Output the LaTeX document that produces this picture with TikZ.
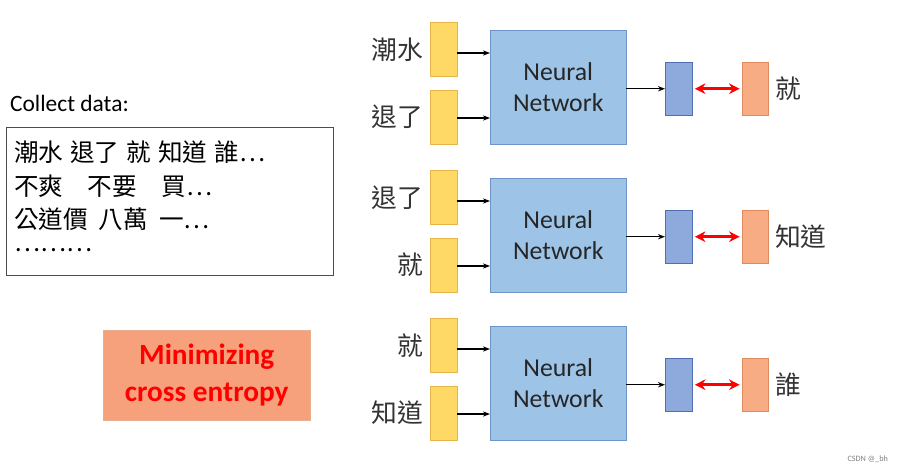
\documentclass[tikz,border=0pt]{standalone}
\usepackage{fontspec}
\setmainfont{Carlito}
\newfontfamily\cjk{Noto Sans CJK TC}
\usetikzlibrary{arrows.meta}
\definecolor{yel}{HTML}{FFD966}
\definecolor{yelD}{HTML}{E6B54A}
\definecolor{nnF}{HTML}{9DC3E6}
\definecolor{nnD}{HTML}{6F94C8}
\definecolor{bl}{HTML}{8EA9DB}
\definecolor{blD}{HTML}{4F6FB0}
\definecolor{orF}{HTML}{F8AC84}
\definecolor{orD}{HTML}{E08A60}
\definecolor{mceF}{HTML}{F6A07C}
\begin{document}
\begin{tikzpicture}[x=0.03cm,y=-0.03cm,
 box/.style={draw,inner sep=0,anchor=north west},
 yb/.style={box,fill=yel,draw=yelD,minimum width=27*0.03cm,minimum height=54*0.03cm},
 nn/.style={box,fill=nnF,draw=nnD,minimum width=136*0.03cm,minimum height=114*0.03cm,align=center,font=\fontsize{22}{27}\selectfont,text=black!85},
 ob/.style={box,fill=bl,draw=blD,minimum width=27*0.03cm,minimum height=53*0.03cm},
 tb/.style={box,fill=orF,draw=orD,minimum width=26*0.03cm,minimum height=53*0.03cm},
 lab/.style={font=\cjk\fontsize{22}{26}\selectfont,text=black!80},
 arr/.style={-{Stealth[length=6pt]},line width=1.1pt},
 red/.style={{Stealth[length=9pt,width=9pt]}-{Stealth[length=9pt,width=9pt]},draw=red,line width=2.8pt}]
\useasboundingbox (0,0) rectangle (902,473);
\node[anchor=west,font=\fontsize{20}{24}\selectfont] (cd) at (6,103) {Collect data:};
\node[box,draw=black!70,minimum width=327*0.03cm,minimum height=148*0.03cm] (data) at (6,127) {};
\begin{scope}[every node/.style={anchor=west,font=\cjk\fontsize{21}{24}\selectfont}]
\node (l1) at (10,152) {潮水\hspace{6pt}退了\hspace{6pt}就\hspace{6pt}知道\hspace{6pt}誰…};
\node (l2) at (10,186) {不爽\quad 不要\quad 買…};
\node (l3) at (10,219) {公道價\ \ 八萬\ \ 一…};
\node (l4) at (10,250) {………};
\end{scope}
\node[box,fill=mceF,draw=orD!70,minimum width=207*0.03cm,minimum height=90*0.03cm,align=center,text=red,font=\bfseries\fontsize{25}{32}\selectfont] (mce) at (103,330) {Minimizing\\cross entropy};
\foreach \r/\a/\b/\c [count=\i] in {0/潮水/退了/就,148/退了/就/知道,296/就/知道/誰}{
 \node[yb] (ya\i) at (430,22+\r) {};
 \node[yb] (yb\i) at (430,90+\r) {};
 \node[lab,anchor=east] (la\i) at (427,50+\r) {\a};
 \node[lab,anchor=east] (lb\i) at (427,117+\r) {\b};
 \node[nn] (nn\i) at (490,30+\r) {Neural\\Network};
 \node[ob] (o\i) at (665,62+\r) {};
 \node[tb] (t\i) at (742,62+\r) {};
 \node[lab,anchor=west] (lt\i) at (771,89+\r) {\c};
 \draw[arr] (ya\i.east |- 0,53+\r) -- (nn\i.west |- 0,53+\r);
 \draw[arr] (yb\i.east |- 0,118+\r) -- (nn\i.west |- 0,118+\r);
 \draw[arr] (nn\i.east |- o\i.west) -- (o\i.west);
 \draw[red] ([xshift=2pt]o\i.east) -- ([xshift=-2pt]t\i.west);
}
\node[anchor=east,font=\fontsize{7}{8}\selectfont,text=gray] (wm) at (892,459) {CSDN @\_bh};
\end{tikzpicture}
\end{document}
